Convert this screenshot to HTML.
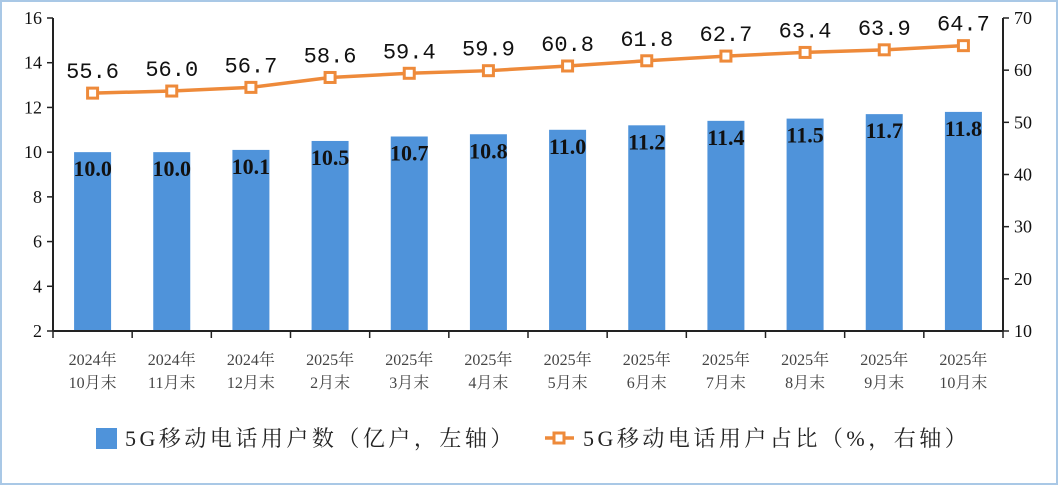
<!DOCTYPE html>
<html><head><meta charset="utf-8"><style>
html,body{margin:0;padding:0;background:#fff}
svg{display:block}
</style></head><body>
<svg width="1058" height="486" viewBox="0 0 1058 486" xmlns="http://www.w3.org/2000/svg">
<rect x="1" y="1" width="1056" height="483" fill="#fff" stroke="#a9c8e6" stroke-width="2"/>
<g id="bars" fill="#4f93da">
</g>
<g font-family="'Liberation Serif','Noto Serif CJK SC',serif">
<line x1="53" y1="18" x2="53" y2="331" stroke="#222" stroke-width="2"/>
<line x1="1003" y1="18" x2="1003" y2="331" stroke="#222" stroke-width="2"/>
<line x1="53" y1="331" x2="1003" y2="331" stroke="#222" stroke-width="2"/>
<g id="ticks" stroke="#222" stroke-width="1.5"></g>
<g id="ylab" font-size="18" fill="#111"></g>
<g id="xlab" font-size="16" fill="#444" text-anchor="middle" font-family="'Liberation Serif','Noto Serif CJK SC',serif"></g>
<polyline id="line" fill="none" stroke="#ee8a3a" stroke-width="3.5" stroke-linejoin="round"/>
<g id="marks"></g>
<g id="blab" font-size="22" font-weight="bold" fill="#111" text-anchor="middle"></g>
<g id="llab" font-size="22" fill="#111" text-anchor="middle" font-family="'Liberation Mono','Noto Serif CJK SC',monospace"></g>
</g>
<rect x="96" y="428" width="21" height="21" fill="#4f93da"/>
<text x="125" y="446" font-size="22" letter-spacing="3.5" fill="#222" font-family="'Liberation Serif','Noto Serif CJK SC',serif">5G移动电话用户数（亿户，左轴）</text>
<line x1="545" y1="438" x2="574" y2="438" stroke="#ee8a3a" stroke-width="3.5"/>
<rect x="554" y="433" width="10" height="10" fill="#fff" stroke="#ee8a3a" stroke-width="3"/>
<text x="583" y="446" font-size="22" letter-spacing="3.5" fill="#222" font-family="'Liberation Serif','Noto Serif CJK SC',serif">5G移动电话用户占比（%，右轴）</text>
</svg>
<script>
const ns="http://www.w3.org/2000/svg";
function el(p,t,a,txt){const e=document.createElementNS(ns,t);for(const k in a)e.setAttribute(k,a[k]);if(txt!==undefined)e.textContent=txt;document.getElementById(p).appendChild(e);return e;}
const bars=[10.0,10.0,10.1,10.5,10.7,10.8,11.0,11.2,11.4,11.5,11.7,11.8];
const pct=[55.6,56.0,56.7,58.6,59.4,59.9,60.8,61.8,62.7,63.4,63.9,64.7];
const xl=[["2024年","10月末"],["2024年","11月末"],["2024年","12月末"],["2025年","2月末"],["2025年","3月末"],["2025年","4月末"],["2025年","5月末"],["2025年","6月末"],["2025年","7月末"],["2025年","8月末"],["2025年","9月末"],["2025年","10月末"]];
const L=53,R=1003,T=18,B=331,w=(R-L)/12;
const yl=v=>B-(v-2)/14*(B-T), yr=v=>B-(v-10)/60*(B-T);
for(let v=2;v<=16;v+=2){const y=yl(v);el("ticks","line",{x1:47,x2:53,y1:y,y2:y});el("ylab","text",{x:42,y:y+6,"text-anchor":"end"},String(v));}
for(let v=10;v<=70;v+=10){const y=yr(v);el("ticks","line",{x1:1003,x2:1009,y1:y,y2:y});el("ylab","text",{x:1014,y:y+6},String(v));}
for(let i=0;i<=12;i++){const x=L+i*w;el("ticks","line",{x1:x,x2:x,y1:331,y2:338});}
let pts=[];
bars.forEach((v,i)=>{const c=L+w*(i+0.5);const y=yl(v);
el("bars","rect",{x:c-18.5,y:y,width:37,height:B-y});
el("blab","text",{x:c,y:y+24},v.toFixed(1));
el("xlab","text",{x:c,y:365},xl[i][0]);el("xlab","text",{x:c,y:388},xl[i][1]);
const py=yr(pct[i]);pts.push(c+","+py);
el("marks","rect",{x:c-5,y:py-5,width:10,height:10,fill:"#fff",stroke:"#ee8a3a","stroke-width":3});
el("llab","text",{x:c,y:py-15},pct[i].toFixed(1));
});
document.getElementById("line").setAttribute("points",pts.join(" "));
</script>
</body></html>
